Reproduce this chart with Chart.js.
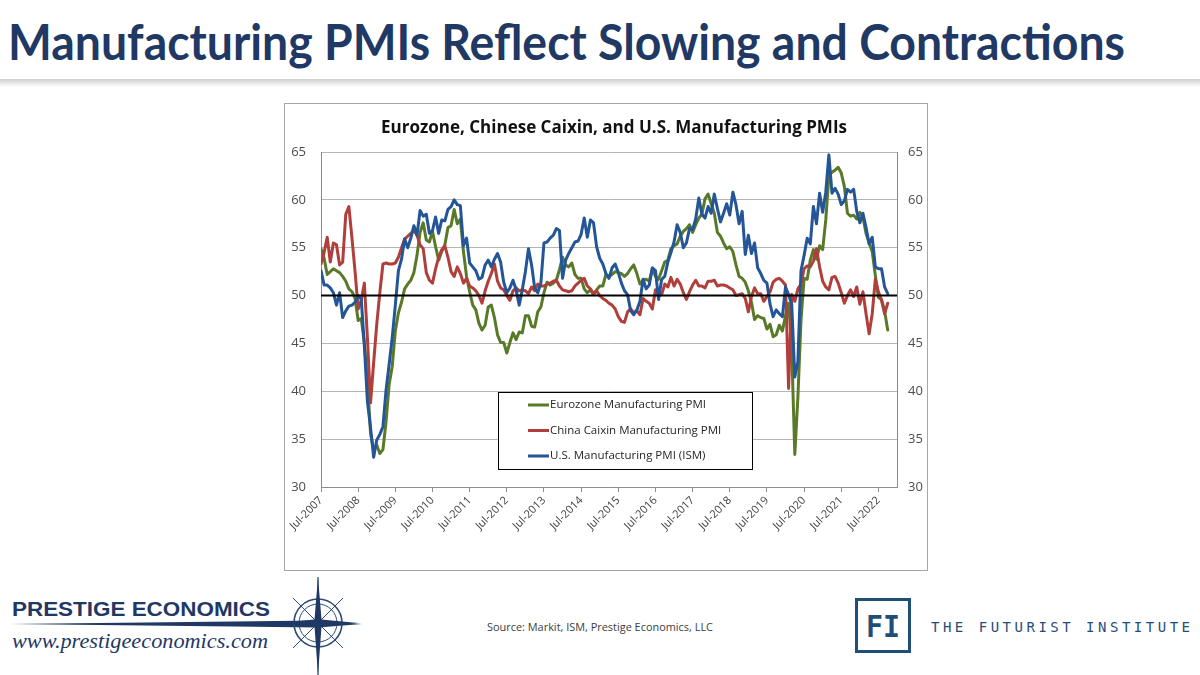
<!DOCTYPE html>
<html>
<head>
<meta charset="utf-8">
<script src="https://cdn.jsdelivr.net/npm/chart.js@4.4.1/dist/chart.umd.min.js"></script>
<style>
  html,body{margin:0;padding:0;background:#fff;}
  body{width:1200px;height:675px;position:relative;overflow:hidden;font-family:'Open Sans',sans-serif;}
  #deco{position:absolute;left:0;top:0;}
  #frame{position:absolute;left:284px;top:103px;width:644px;height:468px;box-sizing:border-box;border:1px solid #a6a6a6;background:#fff;}
  #chart{display:block;}
</style>
</head>
<body>
<svg id="deco" width="1200" height="675" xmlns="http://www.w3.org/2000/svg">
  <defs>
    <linearGradient id="shadow" x1="0" y1="0" x2="0" y2="1">
      <stop offset="0" stop-color="#cfcfcf"/>
      <stop offset="1" stop-color="#ffffff"/>
    </linearGradient>
  </defs>
  <rect x="0" y="79" width="1200" height="8" fill="url(#shadow)"/>
  <text x="8" y="60" font-family="Lato" font-weight="700" font-size="49" fill="#1f3864" textLength="1117" lengthAdjust="spacingAndGlyphs">Manufacturing PMIs Reflect Slowing and Contractions</text>

  <!-- Prestige Economics logo -->
  <text x="12" y="616" font-family="Liberation Sans" font-weight="700" font-size="20" fill="#1f3864" textLength="258" lengthAdjust="spacingAndGlyphs">PRESTIGE ECONOMICS</text>
  <polygon points="10,624 318,620.5 362,624 318,627.5" fill="#1f3864"/>
  <text x="12" y="648" font-family="Liberation Serif" font-style="italic" font-size="21" fill="#1f3864" textLength="256" lengthAdjust="spacingAndGlyphs">www.prestigeeconomics.com</text>
  <g transform="translate(318,623)" stroke="#2b4a78" fill="none">
    <line x1="0" y1="-46" x2="0" y2="52" stroke-width="1.2"/>
    <circle r="24" stroke-width="1.6"/>
    <circle r="19" stroke-width="1"/>
    <line x1="-25" y1="-25" x2="25" y2="25" stroke-width="1"/>
    <line x1="25" y1="-25" x2="-25" y2="25" stroke-width="1"/>
    <polygon fill="#1f3864" stroke="none" points="0,-46 3.5,-3.5 40,0 3.5,3.5 0,52 -3.5,3.5 -40,0 -3.5,-3.5"/>
  </g>

  <text x="487" y="631" font-family="Open Sans" font-size="10" fill="#404040" textLength="226" lengthAdjust="spacingAndGlyphs">Source: Markit, ISM, Prestige Economics, LLC</text>

  <!-- Futurist Institute logo -->
  <rect x="856.5" y="599.5" width="53" height="52" fill="none" stroke="#1f4e79" stroke-width="3"/>
  <text x="883" y="637" text-anchor="middle" font-family="DejaVu Sans Mono" font-weight="700" font-size="30" fill="#1f4e79" textLength="34" lengthAdjust="spacingAndGlyphs">FI</text>
  <text x="931" y="632" font-family="DejaVu Sans Mono" font-size="14" fill="#1f4e79" textLength="259" lengthAdjust="spacing">THE FUTURIST INSTITUTE</text>
</svg>

<div id="frame"><canvas id="chart" width="642" height="466"></canvas></div>

<script>
// ---- data (monthly, Jul-2007 .. Oct-2022) ----
const tickLabels = ['Jul-2007','Jul-2008','Jul-2009','Jul-2010','Jul-2011','Jul-2012','Jul-2013','Jul-2014',
                    'Jul-2015','Jul-2016','Jul-2017','Jul-2018','Jul-2019','Jul-2020','Jul-2021','Jul-2022'];

const eurozonePMI = [
  54.9,53.9,52.2,52.5,52.8,52.6,
  52.4,52.0,51.5,50.7,50.4,49.7,47.4,47.6,45.0,41.1,35.6,33.9,
  34.4,33.5,33.9,36.8,40.7,42.6,46.3,48.2,49.3,50.7,51.2,51.6,
  52.4,54.2,56.6,57.6,55.8,55.6,56.7,55.1,53.7,54.6,55.3,57.1,
  57.3,59.0,57.5,58.0,54.6,52.0,50.4,49.0,48.5,47.1,46.4,46.9,
  48.8,49.0,47.7,45.9,45.1,45.1,44.0,45.1,46.1,45.4,46.2,46.1,
  47.9,47.9,46.8,46.7,48.3,48.8,50.3,51.4,51.1,51.3,51.6,52.7,
  54.0,53.2,53.0,53.4,52.2,51.8,51.8,50.7,50.3,50.6,50.1,50.6,
  51.0,51.0,52.2,52.0,52.2,52.5,52.4,52.3,52.0,52.3,52.8,53.2,
  52.3,51.2,51.6,51.7,51.5,52.8,52.0,51.7,52.6,53.5,53.7,54.9,
  55.2,55.4,56.2,56.7,57.0,57.4,56.6,57.4,58.1,58.5,60.1,60.6,
  59.6,58.6,56.6,56.2,55.5,54.9,55.1,54.6,53.2,52.0,51.8,51.4,
  50.5,49.3,47.5,47.9,47.7,47.6,46.5,47.0,45.7,45.9,46.9,46.3,
  47.9,49.2,44.5,33.4,39.4,47.4,51.8,51.7,53.7,54.8,53.8,55.2,
  54.8,57.9,62.5,62.9,63.1,63.4,62.8,61.4,58.6,58.3,58.4,58.0,
  58.7,58.2,56.5,55.5,54.6,52.1,49.8,49.6,48.4,46.4
];

const caixinPMI = [
  53.3,54.5,56.1,53.5,55.5,55.3,
  53.2,53.5,58.5,59.3,56.0,52.5,48.6,49.5,51.3,45.5,38.8,43.0,
  47.0,50.3,53.3,53.4,53.3,53.3,53.4,54.0,55.0,55.9,56.2,56.5,
  56.8,56.3,55.3,54.9,52.4,51.6,51.3,52.8,54.0,54.8,55.2,54.0,
  52.5,52.0,53.0,52.3,51.3,51.8,51.0,50.8,50.5,50.0,49.2,50.5,
  51.5,52.3,53.3,51.5,50.8,50.6,50.0,49.5,50.5,50.8,50.5,50.6,
  50.5,50.2,50.9,50.5,51.2,51.0,51.0,51.2,51.3,51.5,51.6,51.0,
  50.6,50.5,50.4,50.5,51.0,51.3,51.6,51.8,51.0,50.7,50.2,50.5,
  50.0,49.7,49.5,49.2,49.0,48.6,47.8,47.3,47.2,48.3,48.6,48.2,
  48.4,48.0,49.7,49.4,49.2,48.6,50.6,50.0,50.1,51.2,50.9,51.9,
  51.0,51.7,51.2,50.3,49.6,50.4,51.1,51.6,51.0,51.0,50.8,51.5,
  51.5,51.6,51.0,51.1,51.1,51.0,50.8,50.6,50.0,50.1,50.2,49.7,
  48.3,49.9,50.8,50.2,50.2,49.4,49.9,50.4,51.4,51.7,51.8,51.5,
  51.1,40.3,50.1,49.4,50.7,51.2,52.8,53.1,53.0,53.6,54.9,53.0,
  51.5,50.9,50.6,51.9,52.0,51.3,50.3,49.2,50.0,50.6,49.9,50.9,
  49.1,50.4,48.1,46.0,48.1,51.7,50.4,49.5,48.1,49.2
];

const ismPMI = [
  52.6,51.1,51.1,50.8,50.3,49.0,
  50.3,47.7,48.4,48.9,49.0,49.3,50.0,49.6,44.8,38.9,36.2,33.1,
  34.9,35.5,36.3,40.1,42.8,45.6,49.0,52.6,53.8,55.9,55.0,56.0,
  57.3,56.3,58.9,58.3,58.5,56.5,56.8,58.2,56.5,57.9,57.8,59.0,
  59.3,60.0,59.5,59.4,55.2,56.0,53.4,53.0,52.6,51.7,51.9,53.2,
  53.7,53.0,53.8,54.4,53.5,51.4,50.3,50.8,51.6,50.6,49.0,50.6,
  52.5,54.9,53.2,50.8,50.3,51.3,55.5,55.6,56.0,56.3,57.0,56.8,
  51.8,53.7,54.4,55.0,55.6,55.7,56.4,58.1,56.1,57.9,57.6,55.1,
  53.9,53.3,52.3,51.8,52.9,53.3,52.4,51.3,50.5,50.1,48.4,48.0,
  48.5,49.4,51.7,50.7,51.1,52.9,52.6,49.6,51.7,52.0,53.5,54.5,
  55.6,57.4,56.6,55.0,55.5,57.0,56.9,58.0,60.2,58.5,58.1,59.3,
  58.6,60.6,59.1,57.7,58.6,59.6,58.4,60.8,59.5,57.5,58.8,54.3,
  56.3,54.4,55.5,52.9,52.3,51.6,51.3,49.1,47.8,48.5,48.1,47.8,
  50.9,50.1,49.1,41.5,43.1,52.6,54.2,56.0,55.4,59.3,57.5,60.7,
  58.7,60.8,64.7,60.7,61.2,60.6,59.5,59.9,61.1,60.8,61.1,58.8,
  57.6,58.6,57.1,55.4,56.1,53.0,52.8,52.8,50.9,50.2
];

const seriesNames = ['Eurozone Manufacturing PMI','China Caixin Manufacturing PMI','U.S. Manufacturing PMI (ISM)'];
const expansionLevel = 50;
const chartTitle = 'Eurozone, Chinese Caixin, and U.S. Manufacturing PMIs';

// ---- chart ----
const MONTHS_SPAN = 186;          // axis runs Jul-2007 .. Jan-2023
const toPoints = arr => arr.map((v, i) => ({x: i, y: v}));
const colors = ['#587a28', '#b03f3c', '#235597'];

const tickFont = {family: "'Open Sans'", size: 13};

const titlePlugin = {
  id: 'innerTitle',
  afterDraw(chart) {
    const c = chart.ctx;
    c.save();
    c.font = "bold 17px 'Open Sans'";
    c.fillStyle = '#111';
    c.textAlign = 'center';
    c.textBaseline = 'middle';
    c.fillText(chartTitle, 329, 24);
    c.restore();
  }
};

const boxLegend = {
  id: 'boxLegend',
  afterDatasetsDraw(chart) {
    const c = chart.ctx;
    const b = {x: 213, y: 288, w: 254, h: 77};
    c.save();
    c.fillStyle = '#fff';
    c.fillRect(b.x, b.y, b.w, b.h);
    c.strokeStyle = '#000';
    c.lineWidth = 1;
    c.strokeRect(b.x + 0.5, b.y + 0.5, b.w, b.h);
    chart.data.datasets.slice(0, 3).forEach((ds, k) => {
      const y = b.y + 13 + k * 25.5;
      c.strokeStyle = ds.borderColor;
      c.lineWidth = 3;
      c.beginPath();
      c.moveTo(b.x + 30, y);
      c.lineTo(b.x + 51, y);
      c.stroke();
      c.fillStyle = '#262626';
      c.font = "11.5px 'Open Sans'";
      c.textAlign = 'left';
      c.textBaseline = 'middle';
      c.fillText(ds.label, b.x + 52, y);
    });
    c.restore();
  }
};

new Chart(document.getElementById('chart'), {
  type: 'line',
  data: {
    datasets: [
      {label: seriesNames[0], data: toPoints(eurozonePMI), borderColor: colors[0], order: 3},
      {label: seriesNames[1], data: toPoints(caixinPMI), borderColor: colors[1], order: 2},
      {label: seriesNames[2], data: toPoints(ismPMI), borderColor: colors[2], order: 1},
      {label: 'ref', data: [{x: 0, y: expansionLevel}, {x: MONTHS_SPAN, y: expansionLevel}],
       borderColor: '#000', borderWidth: 2, order: 0}
    ]
  },
  options: {
    responsive: false,
    animation: false,
    layout: {padding: {top: 48, left: 0, right: 0, bottom: 0}},
    elements: {
      point: {radius: 0},
      line: {borderWidth: 3, tension: 0, borderCapStyle: 'round', borderJoinStyle: 'round'}
    },
    plugins: {legend: {display: false}, tooltip: {enabled: false}, title: {display: false}},
    scales: {
      x: {
        type: 'linear', min: 0, max: MONTHS_SPAN,
        afterBuildTicks: s => { s.ticks = tickLabels.map((_, k) => ({value: k * 12})); },
        afterFit: s => { s.height = 83; },
        grid: {drawOnChartArea: false, drawTicks: true, tickLength: 5, color: '#8c8c8c'},
        border: {display: true, color: '#8c8c8c'},
        ticks: {
          autoSkip: false, minRotation: 45, maxRotation: 45, padding: 2,
          font: {family: "'Open Sans'", size: 11}, color: '#404040',
          callback: v => tickLabels[Math.round(v / 12)]
        }
      },
      y: {
        position: 'left', min: 30, max: 65,
        afterFit: s => { s.width = 36; },
        grid: {color: '#b5b5b5', drawTicks: false},
        border: {display: true, color: '#8c8c8c'},
        ticks: {stepSize: 5, padding: 15, font: tickFont, color: '#4d4d4d'}
      },
      y2: {
        position: 'right', min: 30, max: 65,
        afterFit: s => { s.width = 30; },
        grid: {drawOnChartArea: false, drawTicks: false},
        border: {display: true, color: '#8c8c8c'},
        ticks: {stepSize: 5, padding: 11, font: tickFont, color: '#4d4d4d'}
      }
    }
  },
  plugins: [titlePlugin, boxLegend]
});
</script>
</body>
</html>
